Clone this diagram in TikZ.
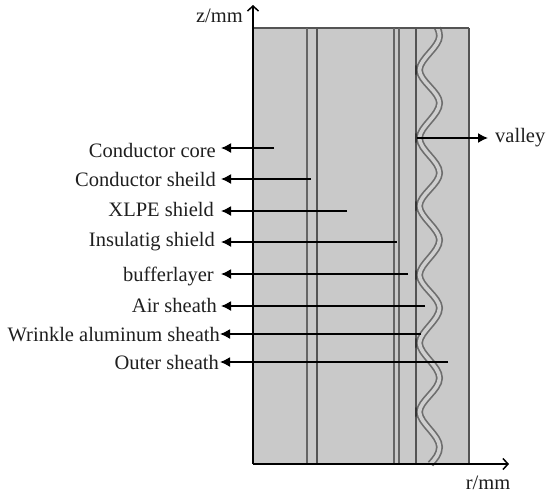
\documentclass[tikz,border=0pt]{standalone}
\usepackage{fontspec}
\setmainfont{Liberation Serif}
\usetikzlibrary{arrows.meta}
\definecolor{fillgray}{gray}{0.79}
\definecolor{edge}{gray}{0.33}
\tikzset{
  x=1pt,y=-1pt,
  lbl/.style={font=\fontsize{20.5}{24}\selectfont,inner sep=0pt,anchor=east,text=black!88},
  ptr/.style={line width=1.5pt,black,-{Latex[length=10pt,width=10pt]}},
  axisline/.style={line width=1.5pt,black,-{Straight Barb[length=5pt,width=11pt,line width=1.5pt]}},
  layer/.style={line width=1.1pt,edge},
  layerthick/.style={line width=1.7pt,edge!90},
  wave/.style={line width=7pt,edge!85,line cap=butt},
  waveinner/.style={line width=3.6pt,fillgray!90!white,line cap=butt},
  blob/.style={line width=2pt,black!80,line cap=round}
}
\newcommand{\wavepath}{(437.5,28) .. controls (438.5,30) and (439.5,33) .. (439.5,36)
  .. controls (439.5,47) and (419.5,59) .. (419.5,70)
  .. controls (419.5,81) and (439.5,92) .. (439.5,103)
  .. controls (439.5,115) and (419.5,127) .. (419.5,138)
  .. controls (419.5,150) and (439.5,161) .. (439.5,173)
  .. controls (439.5,184) and (419.5,195) .. (419.5,206)
  .. controls (419.5,217) and (439.5,229) .. (439.5,240)
  .. controls (439.5,252) and (419.5,264) .. (419.5,275)
  .. controls (419.5,286) and (439.5,297) .. (439.5,308)
  .. controls (439.5,320) and (419.5,332) .. (419.5,343)
  .. controls (419.5,354) and (439.5,366) .. (439.5,378)
  .. controls (439.5,390) and (419.5,401) .. (419.5,412)
  .. controls (419.5,423) and (439.5,435) .. (439.5,447)
  .. controls (439.5,454) and (435,459) .. (430.5,464)}
\begin{document}
\begin{tikzpicture}
\useasboundingbox (0,0) rectangle (550,498);
\coordinate (tl) at (253,28);
\coordinate (br) at (469,464);
\fill[fillgray] (tl) rectangle (br);
\draw[wave] \wavepath;
\draw[waveinner] \wavepath;
\draw[layer] (253,28) -- (469,28);
\draw[layer] (253,28) -- (253,464);
\draw[layer] (469,28) -- (469,464);
\draw[layerthick] (307,28) -- (307,464);
\draw[layer] (317,28) -- (317,464);
\draw[layerthick] (394,28) -- (394,464);
\draw[layerthick] (399,28) -- (399,464);
\draw[layer] (416,28) -- (416,464);
\foreach \yy in {70,138,206,275,343,412}
  \draw[blob] (415.8,\yy-4) -- (415.8,\yy+4);
% axes
\coordinate (o) at (253,464);
\coordinate (zend) at (253,5);
\coordinate (rend) at (509,464);
\draw[axisline] (o) -- (zend);
\draw[axisline] (o) -- (rend);
\node[lbl,anchor=east] (zl) at (243,16) {z/mm};
\node[lbl,anchor=center] (rl) at (488,483) {r/mm};
% labels
\node[lbl] (a) at (216,150) {Conductor core};
\node[lbl] (b) at (216,179) {Conductor sheild};
\node[lbl] (c) at (214,209) {XLPE shield};
\node[lbl] (d) at (215,242) {Insulatig shield};
\node[lbl] (e) at (214,276) {bufferlayer};
\node[lbl] (f) at (217,305) {Air sheath};
\node[lbl] (g) at (220,335) {Wrinkle aluminum sheath};
\node[lbl] (h) at (219,362) {Outer sheath};
\node[lbl,anchor=west] (v) at (495,138) {valley};
\coordinate (a0) at (274,148);
\coordinate (b0) at (311,179);
\coordinate (c0) at (347,211);
\coordinate (d0) at (397,242);
\coordinate (e0) at (408,274);
\coordinate (f0) at (425,306);
\coordinate (g0) at (421,334);
\coordinate (h0) at (448,362);
\coordinate (v0) at (417,138);
\draw[ptr] (a0) -- (a0 -| 221,0);
\draw[ptr] (b0) -- (b0 -| 221,0);
\draw[ptr] (c0) -- (c0 -| 221,0);
\draw[ptr] (d0) -- (d0 -| 221,0);
\draw[ptr] (e0) -- (e0 -| 221,0);
\draw[ptr] (f0) -- (f0 -| 221,0);
\draw[ptr] (g0) -- (g0 -| 220,0);
\draw[ptr] (h0) -- (h0 -| 220,0);
\draw[ptr] (v0) -- (488,138);
\end{tikzpicture}
\end{document}
